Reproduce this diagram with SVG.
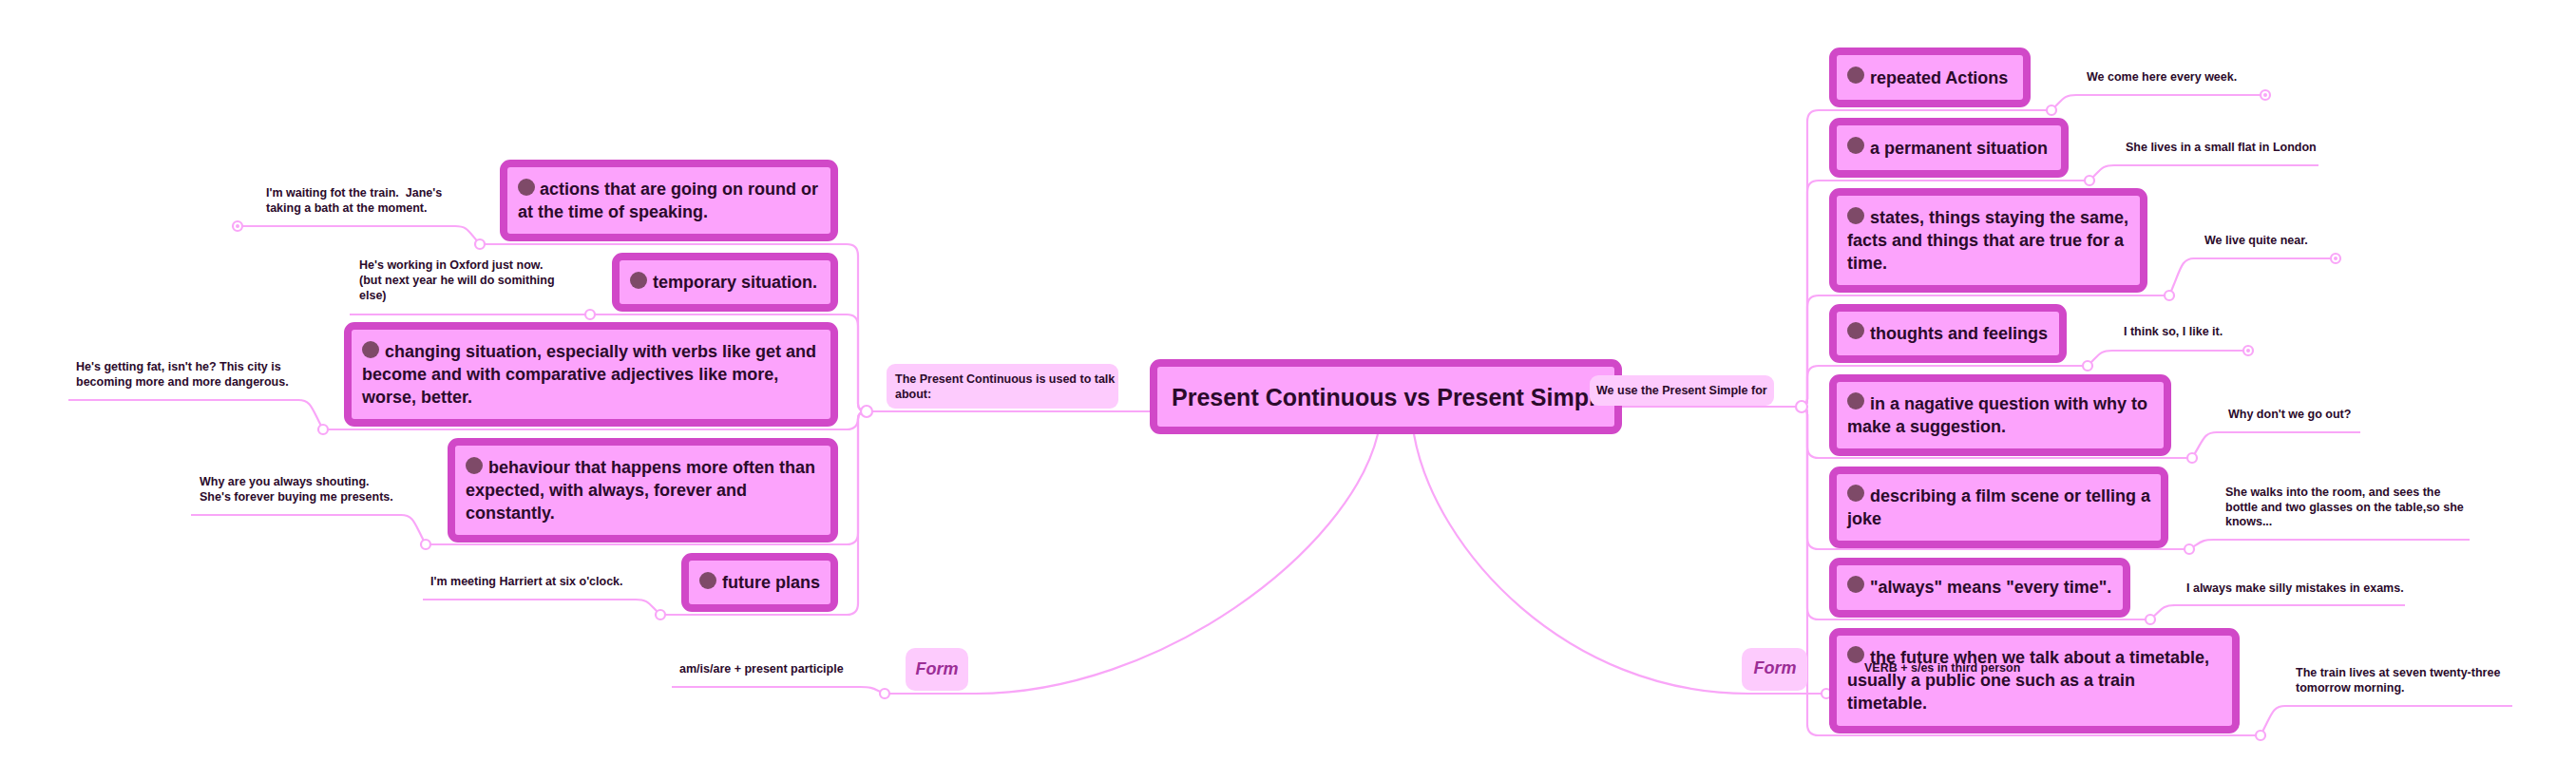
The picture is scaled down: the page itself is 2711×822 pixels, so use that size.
<svg xmlns="http://www.w3.org/2000/svg" width="2711" height="822" viewBox="0 0 2711 822">
<style>
.ln{fill:none;stroke:#F9A6F8;stroke-width:2.2}
.dot{fill:#fff;stroke:#F9A6F8;stroke-width:2.2}
.tdot{fill:#F9A6F8}
.box{fill:#FCA3FC;stroke:#D148C8;stroke-width:8}
.bul{fill:#7E4A68}
.t{font-family:"Liberation Sans",Arial,sans-serif;font-weight:700;font-size:18px;fill:#2B0A2B}
.ttl{font-size:25px}
.n{font-family:"Liberation Sans",Arial,sans-serif;font-weight:700;font-size:12.5px;fill:#2B0A2B;white-space:pre}
.lab{fill:#FDCBFD}
.form{font-family:"Liberation Sans",Arial,sans-serif;font-weight:700;font-style:italic;font-size:18px;fill:#9B2D95;text-anchor:middle}
</style>
<rect width="2711" height="822" fill="#fff"/>
<g id="connectors">
<path class="ln" d="M1210,433 L912,433"/>
<path class="ln" d="M1707,428 L1896,428"/>
<path class="ln" d="M912,433 Q903,433 903,425 L903,269 Q903,257 891,257 L505,257"/>
<path class="ln" d="M912,433 Q903,433 903,425 L903,343 Q903,331 891,331 L621,331"/>
<path class="ln" d="M912,433 Q903,433 903,441 L903,440 Q903,452 891,452 L340,452"/>
<path class="ln" d="M912,433 Q903,433 903,441 L903,561 Q903,573 891,573 L448,573"/>
<path class="ln" d="M912,433 Q903,433 903,441 L903,635 Q903,647 891,647 L695,647"/>
<path class="ln" d="M1896,428 Q1902,428 1902,420 L1902,128 Q1902,116 1914,116 L2159,116"/>
<path class="ln" d="M1896,428 Q1902,428 1902,420 L1902,202 Q1902,190 1914,190 L2199,190"/>
<path class="ln" d="M1896,428 Q1902,428 1902,420 L1902,323 Q1902,311 1914,311 L2283,311"/>
<path class="ln" d="M1896,428 Q1902,428 1902,420 L1902,397 Q1902,385 1914,385 L2197,385"/>
<path class="ln" d="M1896,428 Q1902,428 1902,436 L1902,470 Q1902,482 1914,482 L2307,482"/>
<path class="ln" d="M1896,428 Q1902,428 1902,436 L1902,566 Q1902,578 1914,578 L2304,578"/>
<path class="ln" d="M1896,428 Q1902,428 1902,436 L1902,640 Q1902,652 1914,652 L2263,652"/>
<path class="ln" d="M1896,428 Q1902,428 1902,436 L1902,762 Q1902,774 1914,774 L2379,774"/>
<path class="ln" d="M1450,457 C1420,580 1220,730 1027,730 L931,730"/>
<path class="ln" d="M1488,457 C1510,580 1650,730 1840,730 L1922,730"/>
<path class="ln" d="M505,257 C493,244 493,238 479,238 L250,238"/>
<path class="ln" d="M621,331 L368,331"/>
<path class="ln" d="M340,452 C328,430 328,421 314,421 L72,421"/>
<path class="ln" d="M448,573 C436,551 436,542 422,542 L201,542"/>
<path class="ln" d="M695,647 C683,636 683,631 669,631 L445,631"/>
<path class="ln" d="M931,730 C919,725 919,723 905,723 L707,723"/>
<path class="ln" d="M2159,116 C2171,105 2171,100 2185,100 L2384,100"/>
<path class="ln" d="M2199,190 C2211,179 2211,174 2225,174 L2440,174"/>
<path class="ln" d="M2283,311 C2295,284 2295,272 2309,272 L2458,272"/>
<path class="ln" d="M2197,385 C2209,374 2209,369 2223,369 L2366,369"/>
<path class="ln" d="M2307,482 C2319,463 2319,455 2333,455 L2484,455"/>
<path class="ln" d="M2304,578 C2316,571 2316,568 2330,568 L2599,568"/>
<path class="ln" d="M2263,652 C2275,642 2275,637 2289,637 L2531,637"/>
<path class="ln" d="M2379,774 C2391,752 2391,743 2405,743 L2644,743"/>
<circle class="dot" cx="912" cy="433" r="6"/>
<circle class="dot" cx="1896" cy="428" r="6"/>
<circle class="dot" cx="505" cy="257" r="5"/>
<circle class="dot" cx="621" cy="331" r="5"/>
<circle class="dot" cx="340" cy="452" r="5"/>
<circle class="dot" cx="448" cy="573" r="5"/>
<circle class="dot" cx="695" cy="647" r="5"/>
<circle class="dot" cx="931" cy="730" r="5"/>
<circle class="dot" cx="2159" cy="116" r="5"/>
<circle class="dot" cx="2199" cy="190" r="5"/>
<circle class="dot" cx="2283" cy="311" r="5"/>
<circle class="dot" cx="2197" cy="385" r="5"/>
<circle class="dot" cx="2307" cy="482" r="5"/>
<circle class="dot" cx="2304" cy="578" r="5"/>
<circle class="dot" cx="2263" cy="652" r="5"/>
<circle class="dot" cx="2379" cy="774" r="5"/>
<circle class="dot" cx="1922" cy="730" r="5"/>
<circle class="dot" cx="250" cy="238" r="5"/><circle class="tdot" cx="250" cy="238" r="2"/>
<circle class="dot" cx="2384" cy="100" r="5"/><circle class="tdot" cx="2384" cy="100" r="2"/>
<circle class="dot" cx="2458" cy="272" r="5"/><circle class="tdot" cx="2458" cy="272" r="2"/>
<circle class="dot" cx="2366" cy="369" r="5"/><circle class="tdot" cx="2366" cy="369" r="2"/>
</g>
<g id="center">
<rect class="box" x="1214" y="382" width="489" height="71" rx="7"/>
<text class="t ttl" x="1233" y="427">Present Continuous vs Present Simple</text>
</g>
<g id="label-left">
<rect class="lab" x="933" y="383" width="244" height="47" rx="9"/>
<text class="n"><tspan x="942" y="403">The Present Continuous is used to talk</tspan><tspan x="942" y="419">about:</tspan></text>
</g>
<g id="label-right">
<rect class="lab" x="1673" y="395" width="194" height="32" rx="9"/>
<text class="n" x="1680" y="415">We use the Present Simple for</text>
</g>
<g id="form-left">
<rect class="lab" x="953" y="682" width="66" height="45" rx="10"/>
<text class="form" x="986" y="710">Form</text>
</g>
<g id="form-left-note">
<text class="n" x="715" y="708">am/is/are + present participle</text>
</g>
<g id="form-right">
<rect class="lab" x="1833" y="682" width="69" height="45" rx="10"/>
<text class="form" x="1868" y="709">Form</text>
</g>
<g id="node-actions">
<rect class="box" x="530" y="172" width="348" height="78" rx="7"/>
<circle class="bul" cx="554" cy="197" r="9"/>
<text class="t"><tspan x="568" y="205">actions that are going on round or</tspan><tspan x="545" y="229">at the time of speaking.</tspan></text>
<text class="n"><tspan x="280" y="207">I'm waiting fot the train.  Jane's</tspan><tspan x="280" y="223">taking a bath at the moment.</tspan></text>
</g>
<g id="node-temporary">
<rect class="box" x="648" y="270" width="230" height="54" rx="7"/>
<circle class="bul" cx="672" cy="295" r="9"/>
<text class="t" x="687" y="303">temporary situation.</text>
<text class="n"><tspan x="378" y="283">He's working in Oxford just now.</tspan><tspan x="378" y="299">(but next year he will do somithing</tspan><tspan x="378" y="315">else)</tspan></text>
</g>
<g id="node-changing">
<rect class="box" x="366" y="343" width="512" height="102" rx="7"/>
<circle class="bul" cx="390" cy="368" r="9"/>
<text class="t"><tspan x="405" y="376">changing situation, especially with verbs like get and</tspan><tspan x="381" y="400">become and with comparative adjectives like more,</tspan><tspan x="381" y="424">worse, better.</tspan></text>
<text class="n"><tspan x="80" y="390">He's getting fat, isn't he? This city is</tspan><tspan x="80" y="406">becoming more and more dangerous.</tspan></text>
</g>
<g id="node-behaviour">
<rect class="box" x="475" y="465" width="403" height="102" rx="7"/>
<circle class="bul" cx="499" cy="490" r="9"/>
<text class="t"><tspan x="514" y="498">behaviour that happens more often than</tspan><tspan x="490" y="522">expected, with always, forever and</tspan><tspan x="490" y="546">constantly.</tspan></text>
<text class="n"><tspan x="210" y="511">Why are you always shouting.</tspan><tspan x="210" y="527">She's forever buying me presents.</tspan></text>
</g>
<g id="node-future-plans">
<rect class="box" x="721" y="586" width="157" height="54" rx="7"/>
<circle class="bul" cx="745" cy="611" r="9"/>
<text class="t" x="760" y="619">future plans</text>
<text class="n" x="453" y="616">I'm meeting Harriert at six o'clock.</text>
</g>
<g id="node-repeated">
<rect class="box" x="1929" y="54" width="204" height="55" rx="7"/>
<circle class="bul" cx="1953" cy="79" r="9"/>
<text class="t" x="1968" y="88">repeated Actions</text>
<text class="n" x="2196" y="85">We come here every week.</text>
</g>
<g id="node-permanent">
<rect class="box" x="1929" y="128" width="244" height="55" rx="7"/>
<circle class="bul" cx="1953" cy="153" r="9"/>
<text class="t" x="1968" y="162">a permanent situation</text>
<text class="n" x="2237" y="159">She lives in a small flat in London</text>
</g>
<g id="node-states">
<rect class="box" x="1929" y="202" width="327" height="102" rx="7"/>
<circle class="bul" cx="1953" cy="227" r="9"/>
<text class="t"><tspan x="1968" y="235">states, things staying the same,</tspan><tspan x="1944" y="259">facts and things that are true for a</tspan><tspan x="1944" y="283">time.</tspan></text>
<text class="n" x="2320" y="257">We live quite near.</text>
</g>
<g id="node-thoughts">
<rect class="box" x="1929" y="324" width="242" height="54" rx="7"/>
<circle class="bul" cx="1953" cy="348" r="9"/>
<text class="t" x="1968" y="357">thoughts and feelings</text>
<text class="n" x="2235" y="353">I think so, I like it.</text>
</g>
<g id="node-nagative">
<rect class="box" x="1929" y="398" width="352" height="78" rx="7"/>
<circle class="bul" cx="1953" cy="422" r="9"/>
<text class="t"><tspan x="1968" y="431">in a nagative question with why to</tspan><tspan x="1944" y="455">make a suggestion.</tspan></text>
<text class="n" x="2345" y="440">Why don't we go out?</text>
</g>
<g id="node-describing">
<rect class="box" x="1929" y="495" width="349" height="78" rx="7"/>
<circle class="bul" cx="1953" cy="519" r="9"/>
<text class="t"><tspan x="1968" y="528">describing a film scene or telling a</tspan><tspan x="1944" y="552">joke</tspan></text>
<text class="n"><tspan x="2342" y="522">She walks into the room, and sees the</tspan><tspan x="2342" y="538">bottle and two glasses on the table,so she</tspan><tspan x="2342" y="553">knows...</tspan></text>
</g>
<g id="node-always">
<rect class="box" x="1929" y="591" width="309" height="55" rx="7"/>
<circle class="bul" cx="1953" cy="615" r="9"/>
<text class="t" x="1968" y="624">"always" means "every time".</text>
<text class="n" x="2301" y="623">I always make silly mistakes in exams.</text>
</g>
<g id="node-timetable">
<rect class="box" x="1929" y="665" width="424" height="103" rx="7"/>
<circle class="bul" cx="1953" cy="689" r="9"/>
<text class="t"><tspan x="1968" y="698">the future when we talk about a timetable,</tspan><tspan x="1944" y="722">usually a public one such as a train</tspan><tspan x="1944" y="746">timetable.</tspan></text>
<text class="n"><tspan x="2416" y="712">The train lives at seven twenty-three</tspan><tspan x="2416" y="728">tomorrow morning.</tspan></text>
</g>
<g id="form-right-note">
<text class="n" x="1962" y="707">VERB + s/es in third person</text>
</g>
</svg>
